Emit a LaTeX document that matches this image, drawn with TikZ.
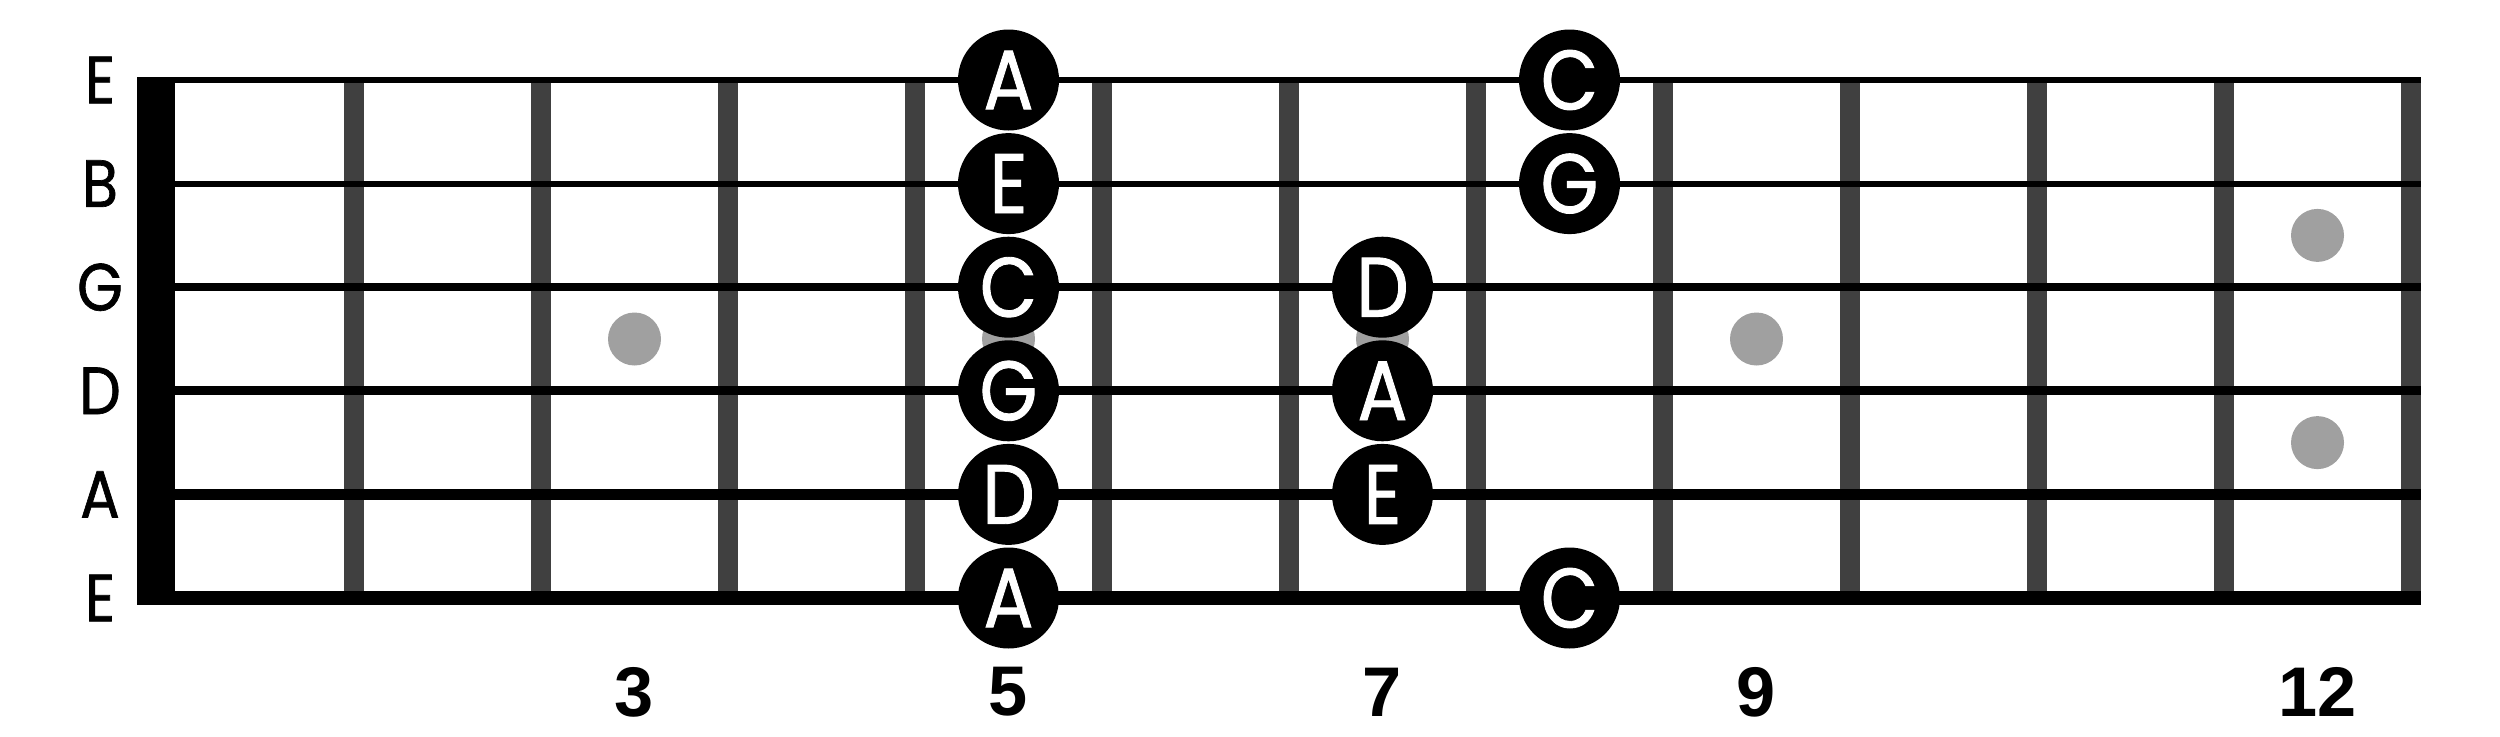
\documentclass[tikz,border=0pt]{standalone}
\usepackage{fontspec}
\setmainfont[FakeStretch=0.88,FakeBold=1.0]{Poppins}
\newfontfamily\numfont{Liberation Sans}
\definecolor{fretgrey}{HTML}{404040}
\definecolor{inlaygrey}{HTML}{A0A0A0}

\begin{document}
\begin{tikzpicture}[y=-1cm,
		note/.style={circle,fill=black,minimum size=1.01cm,inner sep=0pt,text=white,font=\fontsize{24}{24}\selectfont},
		inlay/.style={circle,fill=inlaygrey,minimum size=0.53cm,inner sep=0pt},
		stringname/.style={font=\fontsize{19}{19}\selectfont},
		fretnum/.style={font=\numfont\bfseries\fontsize{20}{20}\selectfont}]
		\useasboundingbox (0,0) rectangle (25,7.36);

		% inlay dots
		\foreach \f in {3,5,7,9}
			\node[inlay] (dot-\f) at (0.735+\f*1.87,3.39) {};
		\node[inlay] (dot-12a) at (0.735+12*1.87,2.354) {};
		\node[inlay] (dot-12b) at (0.735+12*1.87,4.426) {};

		% frets and nut
		\foreach \f in {1,...,12}
			\draw[fretgrey,line width=0.207cm] (1.67+\f*1.87,0.8) -- (1.67+\f*1.87,5.98);
		\fill (1.37,0.77) rectangle (1.75,6.05);

		% strings, thin to thick
		\foreach \s/\w in {1/1.65,2/1.71,3/2.13,4/2.56,5/3.04,6/3.78}
			\draw[line width=\w pt] (1.37,{0.8+(\s-1)*1.036}) -- (24.21,{0.8+(\s-1)*1.036});

		% string names
		\foreach \s/\n in {1/E,2/B,3/G,4/D,5/A,6/E}
			\node[stringname] (str-\s) at (1.0,{0.8+(\s-1)*1.036}) {\n};

		% notes
		\foreach \s/\f/\n in {1/5/A,2/5/E,3/5/C,4/5/G,5/5/D,6/5/A,3/7/D,4/7/A,5/7/E,1/8/C,2/8/G,6/8/C}
			\node[note] (\s-\f) at (0.735+\f*1.87,{0.8+(\s-1)*1.036}) {\n};

		% fret numbers
		\foreach \f in {3,5,7,9,12}
			\node[fretnum] (num-\f) at (0.735+\f*1.87,6.92) {\f};
		\end{tikzpicture}
\end{document}
